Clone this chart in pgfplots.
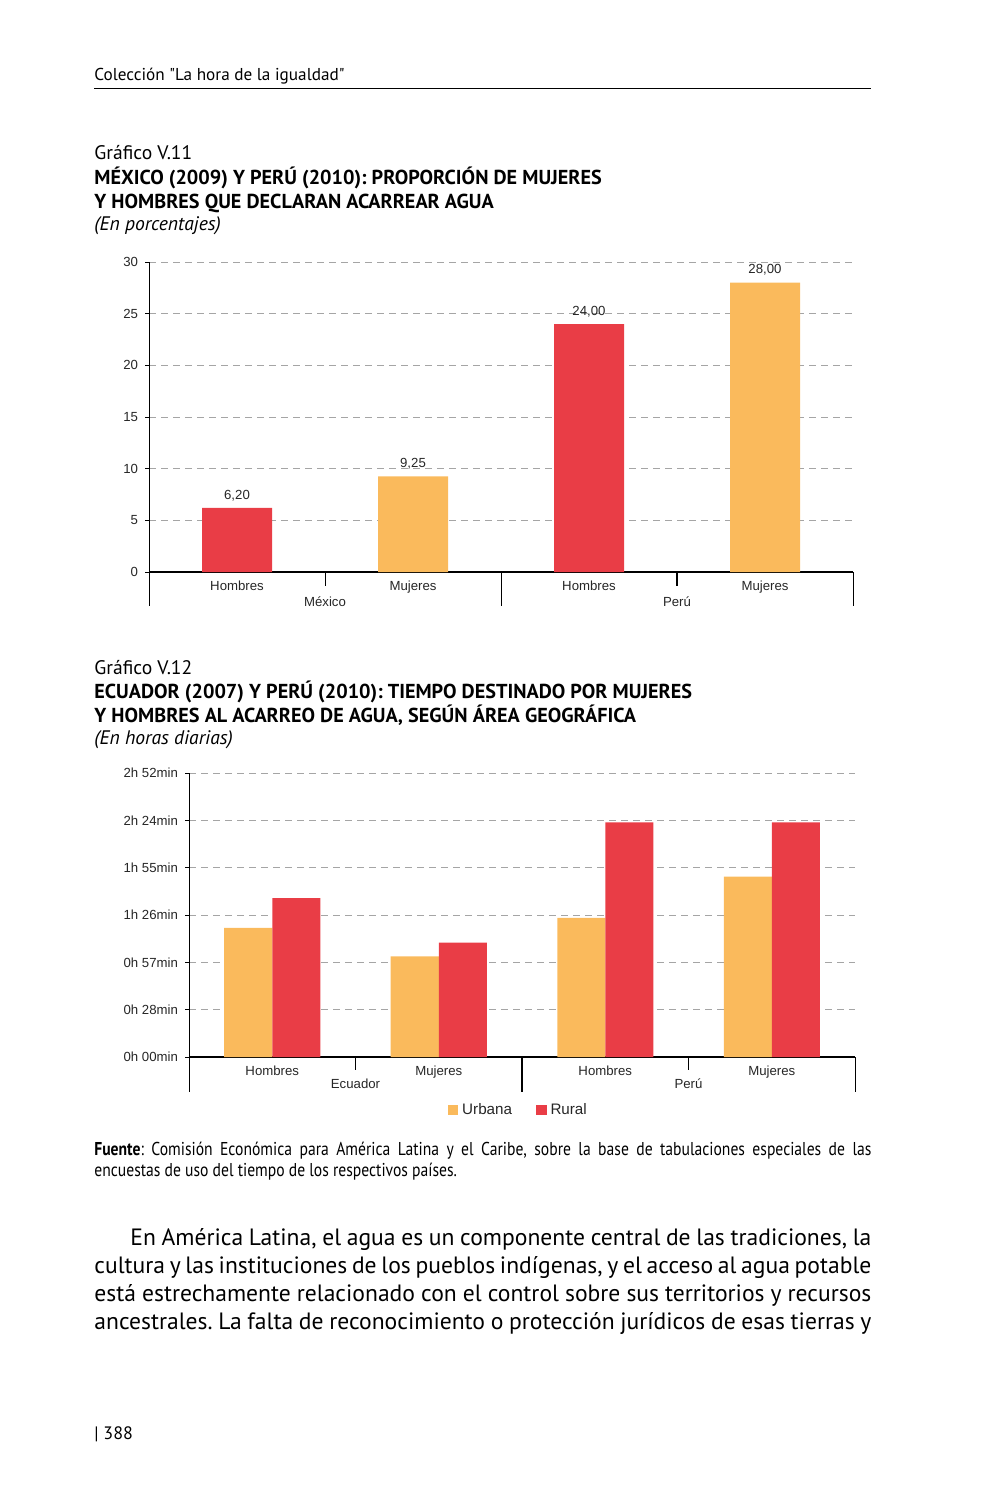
\documentclass[border=0pt]{standalone}
\usepackage{fontspec}
\setmainfont{PT Sans}
\newfontfamily\headfont{PT Sans}
\newfontfamily\chartfont{Liberation Sans}
\newfontfamily\narrowfont[FakeStretch=0.84]{PT Sans}
\usepackage{pgfplots}
\pgfplotsset{compat=1.18}
\frenchspacing

\definecolor{rojo}{RGB}{233,61,70}
\definecolor{naranja}{RGB}{250,186,92}
\definecolor{grilla}{RGB}{165,165,165}

\newcommand{\cf}{\chartfont\fontsize{6.6}{7.5}\selectfont}

\pgfplotsset{pagechart/.style={
    scale only axis,
    axis x line*=bottom,
    axis y line*=left,
    xmin=-0.5, xmax=3.5, ymin=0,
    xtick={0,1,2,3},
    xticklabels={Hombres,Mujeres,Hombres,Mujeres},
    x tick style={draw=none},
    y tick style={black, line width=0.4pt},
    tick align=outside,
    major tick length=2pt,
    ymajorgrids,
    grid style={grilla, dash pattern=on 3.5pt off 2.5pt, line width=0.4pt},
    tick label style={font=\cf, text=black!85},
    /pgf/number format/assume math mode=true,
    xticklabel style={yshift=1pt},
    x axis line style={line width=0.6pt},
    y axis line style={line width=0.5pt},
    clip=false,
}}

\begin{document}
\begin{tikzpicture}[x=0.5pt, y=-0.5pt]
\path[use as bounding box] (0,0) rectangle (1004,1493);

% cabecera
\node[anchor=base west, inner sep=0] at (94,81) {\headfont\fontsize{8.6}{10}\selectfont Colección "La hora de la igualdad"};
\draw[line width=0.4pt] (94,88) -- (871,88);

% ---------------- Gráfico V.11 ----------------
\node[anchor=base west, inner sep=0] at (94,160) {\fontsize{9.8}{11}\selectfont Gráfico V.11};
\node[anchor=base west, inner sep=0] at (94,184.5) {\fontsize{10.1}{11}\selectfont\bfseries MÉXICO (2009) Y PERÚ (2010): PROPORCIÓN DE MUJERES};
\node[anchor=base west, inner sep=0] at (94,208) {\fontsize{10.1}{11}\selectfont\bfseries Y HOMBRES QUE DECLARAN ACARREAR AGUA};
\node[anchor=base west, inner sep=0] at (94,230) {\fontsize{9.8}{11}\selectfont\itshape (En porcentajes)};

\begin{axis}[pagechart,
    at={(74.5pt,-286pt)}, anchor=south west,
    width=352pt, height=155pt,
    ymax=30, ytick={0,5,...,30},
    ybar, bar width=35pt, bar shift=0pt,
    nodes near coords={\pgfmathprintnumber[fixed,fixed zerofill,precision=2,use comma,assume math mode=true]{\pgfplotspointmeta}},
    every node near coord/.append style={font=\cf, text=black!85},
]
\addplot[draw=none, fill=rojo] coordinates {(0,6.20) (2,24.00)};
\addplot[draw=none, fill=naranja] coordinates {(1,9.25) (3,28.00)};
\draw[line width=0.5pt] (axis cs:0.5,0) -- ++(0pt,-7pt);
\draw[line width=0.9pt] (axis cs:2.5,0) -- ++(0pt,-7pt);
\draw[line width=0.5pt] (axis cs:-0.5,0) -- ++(0pt,-17pt);
\draw[line width=0.5pt] (axis cs:1.5,0) -- ++(0pt,-17pt);
\draw[line width=0.5pt] (axis cs:3.5,0) -- ++(0pt,-17pt);
\node[font=\cf, text=black!85, yshift=-15pt] at (axis cs:0.5,0) {México};
\node[font=\cf, text=black!85, yshift=-15pt] at (axis cs:2.5,0) {Perú};
\end{axis}

% ---------------- Gráfico V.12 ----------------
\node[anchor=base west, inner sep=0] at (94,674) {\fontsize{9.8}{11}\selectfont Gráfico V.12};
\node[anchor=base west, inner sep=0] at (94,698.5) {\fontsize{10.1}{11}\selectfont\bfseries ECUADOR (2007) Y PERÚ (2010): TIEMPO DESTINADO POR MUJERES};
\node[anchor=base west, inner sep=0] at (94,722) {\fontsize{10.1}{11}\selectfont\bfseries Y HOMBRES AL ACARREO DE AGUA, SEGÚN ÁREA GEOGRÁFICA};
\node[anchor=base west, inner sep=0] at (94,744) {\fontsize{9.8}{11}\selectfont\itshape (En horas diarias)};

\begin{axis}[pagechart,
    at={(94.5pt,-528.5pt)}, anchor=south west,
    width=333pt, height=142pt,
    ymax=2.88,
    ytick={0,0.48,0.96,1.44,1.92,2.40,2.88},
    yticklabels={0h 00min,0h 28min,0h 57min,1h 26min,1h 55min,2h 24min,2h 52min},
    x axis line style={line width=0.9pt},
    ybar=0pt, bar width=24pt,
    legend style={at={(0.496,-0.187)}, anchor=center, draw=none, fill=none,
        legend columns=2, font=\chartfont\fontsize{7.6}{9}\selectfont, text=black!85,
        /tikz/every even column/.append style={column sep=10pt}},
    legend image code/.code={\fill[#1] (0pt,-2.6pt) rectangle (5.2pt,2.6pt);},
]
\addplot[draw=none, fill=naranja] coordinates {(0,1.31) (1,1.02) (2,1.41) (3,1.83)};
\addplot[draw=none, fill=rojo] coordinates {(0,1.61) (1,1.16) (2,2.38) (3,2.38)};
\legend{Urbana,Rural}
\draw[line width=0.5pt] (axis cs:0.5,0) -- ++(0pt,-6.5pt);
\draw[line width=0.9pt] (axis cs:2.5,0) -- ++(0pt,-6.5pt);
\draw[line width=0.5pt] (axis cs:-0.5,0) -- ++(0pt,-17.5pt);
\draw[line width=0.9pt] (axis cs:1.5,0) -- ++(0pt,-17.5pt);
\draw[line width=0.5pt] (axis cs:3.5,0) -- ++(0pt,-17.5pt);
\node[font=\cf, text=black!85, yshift=-13.5pt] at (axis cs:0.5,0) {Ecuador};
\node[font=\cf, text=black!85, yshift=-13.5pt] at (axis cs:2.5,0) {Perú};
\end{axis}

% fuente
\node[anchor=base west, inner sep=0] at (94,1155.5) {\narrowfont\fontsize{9.3}{11}\selectfont\makebox[388.5pt][s]{{\bfseries Fuente}: Comisión Económica para América Latina y el Caribe, sobre la base de tabulaciones especiales de las}};
\node[anchor=base west, inner sep=0] at (94,1176.5) {\narrowfont\fontsize{9.3}{11}\selectfont encuestas de uso del tiempo de los respectivos países.};

% texto
\node[anchor=base west, inner sep=0] at (130,1245) {\fontsize{11.8}{14}\selectfont\makebox[370.5pt][s]{En América Latina, el agua es un componente central de las tradiciones, la}};
\node[anchor=base west, inner sep=0] at (94,1273) {\fontsize{11.8}{14}\selectfont\makebox[388.5pt][s]{cultura y las instituciones de los pueblos indígenas, y el acceso al agua potable}};
\node[anchor=base west, inner sep=0] at (94,1301) {\fontsize{11.8}{14}\selectfont\makebox[388.5pt][s]{está estrechamente relacionado con el control sobre sus territorios y recursos}};
\node[anchor=base west, inner sep=0] at (94,1329) {\fontsize{11.8}{14}\selectfont\makebox[388.5pt][s]{ancestrales. La falta de reconocimiento o protección jurídicos de esas tierras y}};

\node[anchor=base west, inner sep=0] at (94,1439) {\fontsize{9}{10}\selectfont | 388};
\end{tikzpicture}
\end{document}
